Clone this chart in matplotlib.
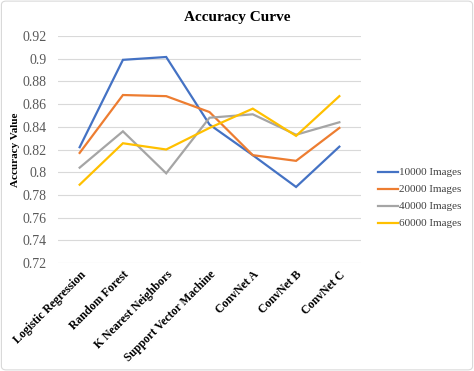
import matplotlib
matplotlib.use("Agg")
import matplotlib.pyplot as plt
from matplotlib.lines import Line2D

categories = ["Logistic Regression", "Random Forest", "K Nearest Neighbors",
              "Support Vector Machine", "ConvNet A", "ConvNet B", "ConvNet C"]
series_names = ["10000 Images", "20000 Images", "40000 Images", "60000 Images"]
acc_10000 = [0.822, 0.899, 0.9015, 0.842, 0.815, 0.787, 0.8225]
acc_20000 = [0.817, 0.868, 0.867, 0.853, 0.815, 0.810, 0.839]
acc_40000 = [0.804, 0.836, 0.799, 0.848, 0.851, 0.833, 0.844]
acc_60000 = [0.789, 0.8255, 0.820, 0.839, 0.856, 0.832, 0.867]
yticks = [0.72, 0.74, 0.76, 0.78, 0.8, 0.82, 0.84, 0.86, 0.88, 0.9, 0.92]
ytick_labels = ["0.72", "0.74", "0.76", "0.78", "0.8", "0.82", "0.84", "0.86", "0.88", "0.9", "0.92"]

colors = ["#4472C4", "#ED7D31", "#A5A5A5", "#FFC000"]
serif = "Liberation Serif"

fig = plt.figure(figsize=(4.74, 3.71), dpi=100)
ax = fig.add_axes([58/474, 1-263/371, 303/474, 227/371])

x = list(range(len(categories)))
for vals, c, name in zip([acc_10000, acc_20000, acc_40000, acc_60000], colors, series_names):
    ax.plot(x, vals, color=c, lw=1.6, label=name, solid_joinstyle="miter")

ax.set_xlim(-0.5, len(categories) - 0.5)
ax.set_ylim(0.72, 0.92)
ax.set_yticks(yticks)
ax.set_yticklabels(ytick_labels, fontfamily=serif, fontsize=10, color="#595959")
ax.grid(axis="y", color="#D9D9D9", lw=0.8)
ax.set_axisbelow(True)
for s in ax.spines.values():
    s.set_visible(False)
ax.tick_params(axis="both", length=0)
ax.tick_params(axis="y", pad=8)
ax.set_xticks(x)
ax.set_xticklabels(categories, rotation=45, ha="right", rotation_mode="anchor",
                   fontfamily=serif, fontsize=8.5, fontweight="bold", color="black")
ax.tick_params(axis="x", pad=4)
ax.set_ylabel("Accuracy Value", fontfamily=serif, fontsize=8, fontweight="bold", labelpad=2)

fig.text(0.5, 1-17/371, "Accuracy Curve", ha="center", va="center",
         fontfamily=serif, fontsize=11, fontweight="bold")

leg = fig.legend(handles=[Line2D([], [], color=c, lw=1.6) for c in colors], labels=series_names,
                 loc="center left", bbox_to_anchor=(368/474, 1-198/371), frameon=False,
                 prop={"family": serif, "size": 8}, handlelength=1.8, handletextpad=0.1,
                 labelspacing=0.65, labelcolor="#404040")

fig.patches.append(matplotlib.patches.FancyBboxPatch((0.003, 0.003), 0.994, 0.994,
                   boxstyle="round,pad=0,rounding_size=0.01", transform=fig.transFigure,
                   fill=False, edgecolor="#D9D9D9", lw=0.8))

fig.savefig("out.png", dpi=100)
